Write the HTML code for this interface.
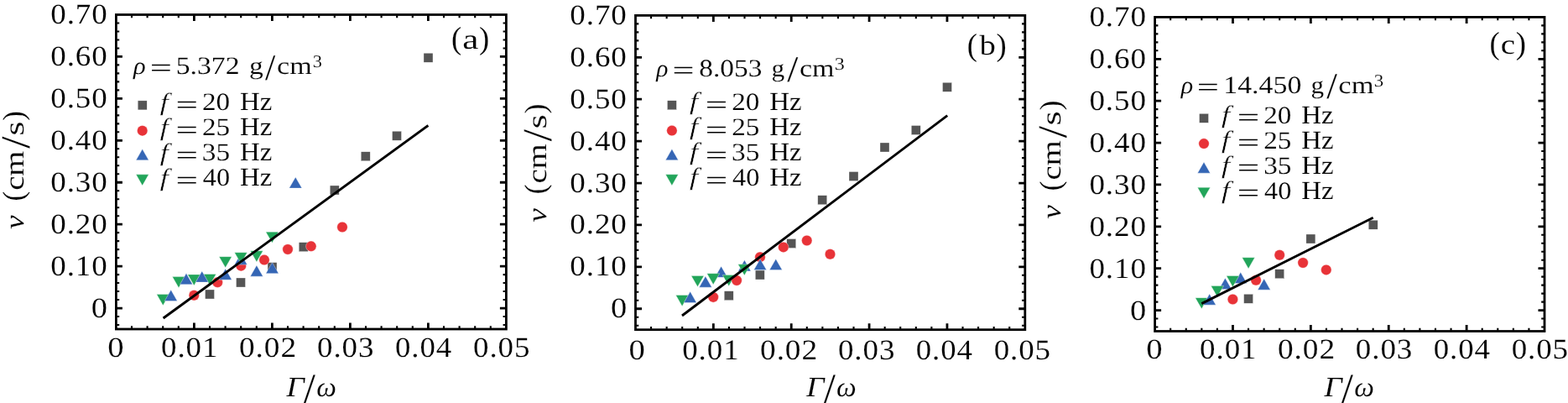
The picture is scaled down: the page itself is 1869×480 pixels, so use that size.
<!DOCTYPE html>
<html lang="en">
<head>
<meta charset="utf-8">
<title>v versus Γ/ω</title>
<style>
html,body{margin:0;padding:0;background:#fff;}
body{width:1869px;height:480px;overflow:hidden;}
svg{display:block;}
text{font-family:"Liberation Serif","DejaVu Serif",serif;fill:#000;stroke:#fff;stroke-width:0.12px;vector-effect:non-scaling-stroke;font-kerning:none;font-variant-ligatures:none;text-rendering:geometricPrecision;white-space:pre;}
text.i{font-style:italic;}
.fr{fill:none;stroke:#000;stroke-width:2.8;}
.tk{stroke:#000;stroke-width:2.1;fill:none;}
.tM{stroke-width:2.8;}
.ln{stroke:#000;stroke-width:2.9;fill:none;}
.m{stroke:#fff;stroke-width:0.35;stroke-linejoin:miter;}
.g{fill:#555555;}
.r{fill:#E83338;}
.b{fill:#3566B5;}
.n{fill:#22A55A;}
</style>
</head>
<body>
<svg width="1869" height="480" viewBox="0 0 1869 480">
<rect x="0" y="0" width="1869" height="480" fill="#fff"/>

<g id="panel-a">
<path class="tk" d="M157.00,392.00v-3.8M157.00,17.50v3.8M175.60,392.00v-3.8M175.60,17.50v3.8M194.20,392.00v-3.8M194.20,17.50v3.8M212.80,392.00v-3.8M212.80,17.50v3.8M250.00,392.00v-3.8M250.00,17.50v3.8M268.60,392.00v-3.8M268.60,17.50v3.8M287.20,392.00v-3.8M287.20,17.50v3.8M305.80,392.00v-3.8M305.80,17.50v3.8M343.00,392.00v-3.8M343.00,17.50v3.8M361.60,392.00v-3.8M361.60,17.50v3.8M380.20,392.00v-3.8M380.20,17.50v3.8M398.80,392.00v-3.8M398.80,17.50v3.8M436.00,392.00v-3.8M436.00,17.50v3.8M454.60,392.00v-3.8M454.60,17.50v3.8M473.20,392.00v-3.8M473.20,17.50v3.8M491.80,392.00v-3.8M491.80,17.50v3.8M529.00,392.00v-3.8M529.00,17.50v3.8M547.60,392.00v-3.8M547.60,17.50v3.8M566.20,392.00v-3.8M566.20,17.50v3.8M584.80,392.00v-3.8M584.80,17.50v3.8M138.40,387.01h3.8M603.40,387.01h-3.8M138.40,377.02h3.8M603.40,377.02h-3.8M138.40,357.05h3.8M603.40,357.05h-3.8M138.40,347.06h3.8M603.40,347.06h-3.8M138.40,337.07h3.8M603.40,337.07h-3.8M138.40,327.09h3.8M603.40,327.09h-3.8M138.40,307.11h3.8M603.40,307.11h-3.8M138.40,297.13h3.8M603.40,297.13h-3.8M138.40,287.14h3.8M603.40,287.14h-3.8M138.40,277.15h3.8M603.40,277.15h-3.8M138.40,257.18h3.8M603.40,257.18h-3.8M138.40,247.19h3.8M603.40,247.19h-3.8M138.40,237.21h3.8M603.40,237.21h-3.8M138.40,227.22h3.8M603.40,227.22h-3.8M138.40,207.25h3.8M603.40,207.25h-3.8M138.40,197.26h3.8M603.40,197.26h-3.8M138.40,187.27h3.8M603.40,187.27h-3.8M138.40,177.29h3.8M603.40,177.29h-3.8M138.40,157.31h3.8M603.40,157.31h-3.8M138.40,147.33h3.8M603.40,147.33h-3.8M138.40,137.34h3.8M603.40,137.34h-3.8M138.40,127.35h3.8M603.40,127.35h-3.8M138.40,107.38h3.8M603.40,107.38h-3.8M138.40,97.39h3.8M603.40,97.39h-3.8M138.40,87.41h3.8M603.40,87.41h-3.8M138.40,77.42h3.8M603.40,77.42h-3.8M138.40,57.45h3.8M603.40,57.45h-3.8M138.40,47.46h3.8M603.40,47.46h-3.8M138.40,37.47h3.8M603.40,37.47h-3.8M138.40,27.49h3.8M603.40,27.49h-3.8"/>
<path class="tk tM" d="M231.40,392.00v-7.5M231.40,17.50v7.5M324.40,392.00v-7.5M324.40,17.50v7.5M417.40,392.00v-7.5M417.40,17.50v7.5M510.40,392.00v-7.5M510.40,17.50v7.5M138.40,367.03h7.5M603.40,367.03h-7.5M138.40,317.10h7.5M603.40,317.10h-7.5M138.40,267.17h7.5M603.40,267.17h-7.5M138.40,217.23h7.5M603.40,217.23h-7.5M138.40,167.30h7.5M603.40,167.30h-7.5M138.40,117.37h7.5M603.40,117.37h-7.5M138.40,67.43h7.5M603.40,67.43h-7.5"/>
<rect class="fr" x="138.40" y="17.50" width="465.00" height="374.50"/>
<rect class="m g" x="244.50" y="345.00" width="11.00" height="11.00"/>
<rect class="m g" x="281.50" y="331.00" width="11.00" height="11.00"/>
<rect class="m g" x="319.00" y="312.60" width="11.00" height="11.00"/>
<rect class="m g" x="356.20" y="288.70" width="11.00" height="11.00"/>
<rect class="m g" x="393.25" y="221.00" width="11.00" height="11.00"/>
<rect class="m g" x="430.25" y="180.75" width="11.00" height="11.00"/>
<rect class="m g" x="467.50" y="156.25" width="11.00" height="11.00"/>
<rect class="m g" x="505.00" y="63.25" width="11.00" height="11.00"/>
<circle class="m r" cx="231.25" cy="351.75" r="6.25"/>
<circle class="m r" cx="259.25" cy="336.25" r="6.25"/>
<circle class="m r" cx="287.30" cy="316.70" r="6.25"/>
<circle class="m r" cx="343.00" cy="297.00" r="6.25"/>
<circle class="m r" cx="370.80" cy="293.30" r="6.25"/>
<circle class="m r" cx="408.00" cy="270.50" r="6.25"/>
<polygon class="m b" points="261.20,333.30 276.30,333.30 268.75,320.10"/>
<polygon class="m b" points="279.55,315.20 294.65,315.20 287.10,302.00"/>
<polygon class="m b" points="298.35,329.20 313.45,329.20 305.90,316.00"/>
<polygon class="m b" points="316.95,325.65 332.05,325.65 324.50,312.45"/>
<polygon class="m b" points="344.70,224.10 359.80,224.10 352.25,210.90"/>
<polygon class="m n" points="186.75,350.60 201.85,350.60 194.30,363.80"/>
<polygon class="m n" points="205.45,329.60 220.55,329.60 213.00,342.80"/>
<polygon class="m n" points="223.75,326.90 238.85,326.90 231.30,340.10"/>
<polygon class="m n" points="242.45,326.50 257.55,326.50 250.00,339.70"/>
<polygon class="m n" points="261.15,305.65 276.25,305.65 268.70,318.85"/>
<polygon class="m n" points="279.55,300.70 294.65,300.70 287.10,313.90"/>
<polygon class="m n" points="298.35,298.75 313.45,298.75 305.90,311.95"/>
<polygon class="m n" points="316.85,276.15 331.95,276.15 324.40,289.35"/>
<polygon class="m b" points="196.20,358.50 211.30,358.50 203.75,345.30"/>
<polygon class="m b" points="214.45,338.80 229.55,338.80 222.00,325.60"/>
<polygon class="m b" points="233.20,336.10 248.30,336.10 240.75,322.90"/>
<circle class="m r" cx="315.00" cy="309.60" r="6.25"/>
<line class="ln" x1="194.60" y1="379.00" x2="510.40" y2="149.50"/>
<rect class="m g" x="164.20" y="119.90" width="11.00" height="11.00"/>
<circle class="m r" cx="169.70" cy="155.70" r="6.25"/>
<polygon class="m b" points="162.15,190.80 177.25,190.80 169.70,177.60"/>
<polygon class="m n" points="162.15,207.85 177.25,207.85 169.70,221.05"/>
<text font-size="34" transform="translate(108.87,377.53) scale(1.1325,1)">0</text>
<text letter-spacing="0.826" font-size="34" transform="translate(60.23,327.60) scale(1.0898,1)">0.10</text>
<text letter-spacing="0.826" font-size="34" transform="translate(60.23,277.67) scale(1.0898,1)">0.20</text>
<text letter-spacing="0.826" font-size="34" transform="translate(60.23,227.73) scale(1.0898,1)">0.30</text>
<text letter-spacing="0.826" font-size="34" transform="translate(60.23,177.80) scale(1.0898,1)">0.40</text>
<text letter-spacing="0.826" font-size="34" transform="translate(60.23,127.87) scale(1.0898,1)">0.50</text>
<text letter-spacing="0.826" font-size="34" transform="translate(60.23,77.93) scale(1.0898,1)">0.60</text>
<text letter-spacing="0.826" font-size="34" transform="translate(60.23,28.00) scale(1.0898,1)">0.70</text>
<text font-size="34" transform="translate(128.16,425.30) scale(1.1395,1)">0</text>
<text letter-spacing="0.826" font-size="34" transform="translate(192.03,425.30) scale(1.0891,1)">0.01</text>
<text letter-spacing="0.819" font-size="34" transform="translate(285.02,425.30) scale(1.0993,1)">0.02</text>
<text letter-spacing="0.827" font-size="34" transform="translate(378.03,425.30) scale(1.0887,1)">0.03</text>
<text letter-spacing="0.830" font-size="34" transform="translate(471.04,425.30) scale(1.0840,1)">0.04</text>
<text letter-spacing="0.827" font-size="34" transform="translate(564.03,425.30) scale(1.0887,1)">0.05</text>
<text><tspan x="341.15" y="471.60" font-size="33.6" textLength="21.46" lengthAdjust="spacingAndGlyphs" style="font-style:italic">Γ</tspan><tspan x="361.84" y="479.70" font-size="50.8" textLength="14.12" lengthAdjust="spacingAndGlyphs">/</tspan><tspan x="377.22" y="471.60" font-size="33" textLength="23.71" lengthAdjust="spacingAndGlyphs" style="font-style:italic">ω</tspan></text>
<text transform="rotate(-90)"><tspan x="-273.08" y="28.40" font-size="33" textLength="16.84" lengthAdjust="spacingAndGlyphs" style="font-style:italic">v</tspan><tspan> </tspan><tspan x="-239.59" y="28.00" font-size="36" textLength="11.57" lengthAdjust="spacingAndGlyphs">(</tspan><tspan x="-226.83" y="28.40" font-size="33" textLength="47.19" lengthAdjust="spacingAndGlyphs">cm</tspan><tspan x="-176.76" y="35.00" font-size="49" textLength="14.32" lengthAdjust="spacingAndGlyphs">/</tspan><tspan x="-161.88" y="28.40" font-size="33" textLength="17.24" lengthAdjust="spacingAndGlyphs">s</tspan><tspan x="-143.68" y="28.00" font-size="36" textLength="11.57" lengthAdjust="spacingAndGlyphs">)</tspan></text>
<text><tspan x="538.08" y="58.00" font-size="37.4" textLength="12.21" lengthAdjust="spacingAndGlyphs">(</tspan><tspan x="551.17" y="57.50" font-size="33.5" textLength="19.24" lengthAdjust="spacingAndGlyphs">a</tspan><tspan x="571.01" y="58.00" font-size="37.4" textLength="12.21" lengthAdjust="spacingAndGlyphs">)</tspan></text>
<text><tspan x="159.02" y="88.40" font-size="28.8" textLength="14.67" lengthAdjust="spacingAndGlyphs" style="font-style:italic">ρ</tspan><tspan> </tspan><tspan x="178.69" y="91.45" font-size="31.3" textLength="26.18" lengthAdjust="spacingAndGlyphs" style="stroke:none">=</tspan><tspan> </tspan><tspan x="209.68" y="88.40" font-size="29.6" textLength="75.94" lengthAdjust="spacingAndGlyphs">5.372</tspan><tspan> </tspan><tspan x="297.00" y="88.40" font-size="29" textLength="16.80" lengthAdjust="spacingAndGlyphs">g</tspan><tspan x="315.94" y="94.80" font-size="43.7" textLength="12.22" lengthAdjust="spacingAndGlyphs">/</tspan><tspan x="330.14" y="88.40" font-size="29" textLength="41.70" lengthAdjust="spacingAndGlyphs">cm</tspan><tspan x="372.87" y="80.40" font-size="21" textLength="11.16" lengthAdjust="spacingAndGlyphs">3</tspan></text>
<text><tspan x="190.48" y="130.50" font-size="29" textLength="10.40" lengthAdjust="spacingAndGlyphs" style="font-style:italic;stroke-width:0.4px">f</tspan><tspan> </tspan><tspan x="209.56" y="135.00" font-size="31.3" textLength="26.48" lengthAdjust="spacingAndGlyphs" style="stroke:none">=</tspan><tspan> </tspan><tspan x="240.98" y="131.10" font-size="29.6" textLength="33.14" lengthAdjust="spacingAndGlyphs">20</tspan><tspan> </tspan><tspan x="285.99" y="131.10" font-size="30.8" textLength="38.38" lengthAdjust="spacingAndGlyphs">Hz</tspan></text>
<text><tspan x="190.48" y="160.50" font-size="29" textLength="10.40" lengthAdjust="spacingAndGlyphs" style="font-style:italic;stroke-width:0.4px">f</tspan><tspan> </tspan><tspan x="209.56" y="165.00" font-size="31.3" textLength="26.48" lengthAdjust="spacingAndGlyphs" style="stroke:none">=</tspan><tspan> </tspan><tspan x="240.98" y="161.10" font-size="29.6" textLength="33.17" lengthAdjust="spacingAndGlyphs">25</tspan><tspan> </tspan><tspan x="285.99" y="161.10" font-size="30.8" textLength="38.38" lengthAdjust="spacingAndGlyphs">Hz</tspan></text>
<text><tspan x="190.48" y="190.50" font-size="29" textLength="10.40" lengthAdjust="spacingAndGlyphs" style="font-style:italic;stroke-width:0.4px">f</tspan><tspan> </tspan><tspan x="209.56" y="195.00" font-size="31.3" textLength="26.48" lengthAdjust="spacingAndGlyphs" style="stroke:none">=</tspan><tspan> </tspan><tspan x="240.85" y="191.10" font-size="29.6" textLength="33.32" lengthAdjust="spacingAndGlyphs">35</tspan><tspan> </tspan><tspan x="285.99" y="191.10" font-size="30.8" textLength="38.38" lengthAdjust="spacingAndGlyphs">Hz</tspan></text>
<text><tspan x="190.48" y="220.50" font-size="29" textLength="10.40" lengthAdjust="spacingAndGlyphs" style="font-style:italic;stroke-width:0.4px">f</tspan><tspan> </tspan><tspan x="209.56" y="225.00" font-size="31.3" textLength="26.48" lengthAdjust="spacingAndGlyphs" style="stroke:none">=</tspan><tspan> </tspan><tspan x="241.81" y="221.10" font-size="29.6" textLength="32.28" lengthAdjust="spacingAndGlyphs">40</tspan><tspan> </tspan><tspan x="285.99" y="221.10" font-size="30.8" textLength="38.38" lengthAdjust="spacingAndGlyphs">Hz</tspan></text>
</g>
<g id="panel-b">
<path class="tk" d="M776.07,392.70v-3.8M776.07,18.40v3.8M794.64,392.70v-3.8M794.64,18.40v3.8M813.22,392.70v-3.8M813.22,18.40v3.8M831.79,392.70v-3.8M831.79,18.40v3.8M868.93,392.70v-3.8M868.93,18.40v3.8M887.50,392.70v-3.8M887.50,18.40v3.8M906.08,392.70v-3.8M906.08,18.40v3.8M924.65,392.70v-3.8M924.65,18.40v3.8M961.79,392.70v-3.8M961.79,18.40v3.8M980.36,392.70v-3.8M980.36,18.40v3.8M998.94,392.70v-3.8M998.94,18.40v3.8M1017.51,392.70v-3.8M1017.51,18.40v3.8M1054.65,392.70v-3.8M1054.65,18.40v3.8M1073.22,392.70v-3.8M1073.22,18.40v3.8M1091.80,392.70v-3.8M1091.80,18.40v3.8M1110.37,392.70v-3.8M1110.37,18.40v3.8M1147.51,392.70v-3.8M1147.51,18.40v3.8M1166.08,392.70v-3.8M1166.08,18.40v3.8M1184.66,392.70v-3.8M1184.66,18.40v3.8M1203.23,392.70v-3.8M1203.23,18.40v3.8M757.50,387.71h3.8M1221.80,387.71h-3.8M757.50,377.73h3.8M1221.80,377.73h-3.8M757.50,357.77h3.8M1221.80,357.77h-3.8M757.50,347.78h3.8M1221.80,347.78h-3.8M757.50,337.80h3.8M1221.80,337.80h-3.8M757.50,327.82h3.8M1221.80,327.82h-3.8M757.50,307.86h3.8M1221.80,307.86h-3.8M757.50,297.88h3.8M1221.80,297.88h-3.8M757.50,287.90h3.8M1221.80,287.90h-3.8M757.50,277.91h3.8M1221.80,277.91h-3.8M757.50,257.95h3.8M1221.80,257.95h-3.8M757.50,247.97h3.8M1221.80,247.97h-3.8M757.50,237.99h3.8M1221.80,237.99h-3.8M757.50,228.01h3.8M1221.80,228.01h-3.8M757.50,208.05h3.8M1221.80,208.05h-3.8M757.50,198.06h3.8M1221.80,198.06h-3.8M757.50,188.08h3.8M1221.80,188.08h-3.8M757.50,178.10h3.8M1221.80,178.10h-3.8M757.50,158.14h3.8M1221.80,158.14h-3.8M757.50,148.16h3.8M1221.80,148.16h-3.8M757.50,138.18h3.8M1221.80,138.18h-3.8M757.50,128.19h3.8M1221.80,128.19h-3.8M757.50,108.23h3.8M1221.80,108.23h-3.8M757.50,98.25h3.8M1221.80,98.25h-3.8M757.50,88.27h3.8M1221.80,88.27h-3.8M757.50,78.29h3.8M1221.80,78.29h-3.8M757.50,58.33h3.8M1221.80,58.33h-3.8M757.50,48.34h3.8M1221.80,48.34h-3.8M757.50,38.36h3.8M1221.80,38.36h-3.8M757.50,28.38h3.8M1221.80,28.38h-3.8"/>
<path class="tk tM" d="M850.36,392.70v-7.5M850.36,18.40v7.5M943.22,392.70v-7.5M943.22,18.40v7.5M1036.08,392.70v-7.5M1036.08,18.40v7.5M1128.94,392.70v-7.5M1128.94,18.40v7.5M757.50,367.75h7.5M1221.80,367.75h-7.5M757.50,317.84h7.5M1221.80,317.84h-7.5M757.50,267.93h7.5M1221.80,267.93h-7.5M757.50,218.03h7.5M1221.80,218.03h-7.5M757.50,168.12h7.5M1221.80,168.12h-7.5M757.50,118.21h7.5M1221.80,118.21h-7.5M757.50,68.31h7.5M1221.80,68.31h-7.5"/>
<rect class="fr" x="757.50" y="18.40" width="464.30" height="374.30"/>
<rect class="m g" x="863.20" y="346.70" width="11.00" height="11.00"/>
<rect class="m g" x="900.30" y="322.00" width="11.00" height="11.00"/>
<rect class="m g" x="937.75" y="284.50" width="11.00" height="11.00"/>
<rect class="m g" x="974.75" y="232.75" width="11.00" height="11.00"/>
<rect class="m g" x="1012.00" y="204.50" width="11.00" height="11.00"/>
<rect class="m g" x="1049.00" y="170.00" width="11.00" height="11.00"/>
<rect class="m g" x="1086.25" y="149.50" width="11.00" height="11.00"/>
<rect class="m g" x="1123.50" y="98.25" width="11.00" height="11.00"/>
<circle class="m r" cx="850.20" cy="353.90" r="6.25"/>
<circle class="m r" cx="906.00" cy="306.20" r="6.25"/>
<circle class="m r" cx="933.80" cy="294.40" r="6.25"/>
<circle class="m r" cx="961.75" cy="286.50" r="6.25"/>
<circle class="m r" cx="989.50" cy="302.75" r="6.25"/>
<polygon class="m n" points="823.95,328.40 839.05,328.40 831.50,341.60"/>
<polygon class="m b" points="833.35,342.20 848.45,342.20 840.90,329.00"/>
<polygon class="m b" points="852.05,330.35 867.15,330.35 859.60,317.15"/>
<polygon class="m b" points="879.85,322.90 894.95,322.90 887.40,309.70"/>
<polygon class="m b" points="898.55,321.60 913.65,321.60 906.10,308.40"/>
<polygon class="m b" points="917.20,321.60 932.30,321.60 924.75,308.40"/>
<polygon class="m n" points="805.55,351.50 820.65,351.50 813.10,364.70"/>
<polygon class="m n" points="842.65,325.70 857.75,325.70 850.20,338.90"/>
<polygon class="m n" points="861.20,327.60 876.30,327.60 868.75,340.80"/>
<polygon class="m n" points="879.75,314.80 894.85,314.80 887.30,328.00"/>
<polygon class="m b" points="815.15,360.50 830.25,360.50 822.70,347.30"/>
<circle class="m r" cx="878.10" cy="334.00" r="6.25"/>
<line class="ln" x1="813.00" y1="376.00" x2="1129.20" y2="137.70"/>
<rect class="m g" x="795.40" y="119.80" width="11.00" height="11.00"/>
<circle class="m r" cx="800.90" cy="155.60" r="6.25"/>
<polygon class="m b" points="793.35,190.70 808.45,190.70 800.90,177.50"/>
<polygon class="m n" points="793.35,207.75 808.45,207.75 800.90,220.95"/>
<text font-size="34" transform="translate(727.97,378.25) scale(1.1325,1)">0</text>
<text letter-spacing="0.826" font-size="34" transform="translate(679.33,328.34) scale(1.0898,1)">0.10</text>
<text letter-spacing="0.826" font-size="34" transform="translate(679.33,278.43) scale(1.0898,1)">0.20</text>
<text letter-spacing="0.826" font-size="34" transform="translate(679.33,228.53) scale(1.0898,1)">0.30</text>
<text letter-spacing="0.826" font-size="34" transform="translate(679.33,178.62) scale(1.0898,1)">0.40</text>
<text letter-spacing="0.826" font-size="34" transform="translate(679.33,128.71) scale(1.0898,1)">0.50</text>
<text letter-spacing="0.826" font-size="34" transform="translate(679.33,78.81) scale(1.0898,1)">0.60</text>
<text letter-spacing="0.826" font-size="34" transform="translate(679.33,28.90) scale(1.0898,1)">0.70</text>
<text font-size="34" transform="translate(749.46,427.70) scale(1.1395,1)">0</text>
<text letter-spacing="0.826" font-size="34" transform="translate(813.19,427.70) scale(1.0891,1)">0.01</text>
<text letter-spacing="0.819" font-size="34" transform="translate(906.04,427.70) scale(1.0993,1)">0.02</text>
<text letter-spacing="0.827" font-size="34" transform="translate(998.91,427.70) scale(1.0887,1)">0.03</text>
<text letter-spacing="0.830" font-size="34" transform="translate(1091.78,427.70) scale(1.0840,1)">0.04</text>
<text letter-spacing="0.827" font-size="34" transform="translate(1184.63,427.70) scale(1.0887,1)">0.05</text>
<text><tspan x="961.05" y="472.30" font-size="33.6" textLength="21.46" lengthAdjust="spacingAndGlyphs" style="font-style:italic">Γ</tspan><tspan x="981.74" y="480.40" font-size="50.8" textLength="14.12" lengthAdjust="spacingAndGlyphs">/</tspan><tspan x="997.12" y="472.30" font-size="33" textLength="23.71" lengthAdjust="spacingAndGlyphs" style="font-style:italic">ω</tspan></text>
<text transform="rotate(-90)"><tspan x="-264.68" y="650.50" font-size="33" textLength="16.84" lengthAdjust="spacingAndGlyphs" style="font-style:italic">v</tspan><tspan> </tspan><tspan x="-231.19" y="650.10" font-size="36" textLength="11.57" lengthAdjust="spacingAndGlyphs">(</tspan><tspan x="-218.43" y="650.50" font-size="33" textLength="47.19" lengthAdjust="spacingAndGlyphs">cm</tspan><tspan x="-168.36" y="657.10" font-size="49" textLength="14.32" lengthAdjust="spacingAndGlyphs">/</tspan><tspan x="-153.48" y="650.50" font-size="33" textLength="17.24" lengthAdjust="spacingAndGlyphs">s</tspan><tspan x="-135.28" y="650.10" font-size="36" textLength="11.57" lengthAdjust="spacingAndGlyphs">)</tspan></text>
<text><tspan x="1152.73" y="65.80" font-size="37.4" textLength="12.21" lengthAdjust="spacingAndGlyphs">(</tspan><tspan x="1167.44" y="65.30" font-size="33.5" textLength="19.34" lengthAdjust="spacingAndGlyphs">b</tspan><tspan x="1187.51" y="65.80" font-size="37.4" textLength="12.21" lengthAdjust="spacingAndGlyphs">)</tspan></text>
<text><tspan x="782.19" y="90.50" font-size="28.8" textLength="14.16" lengthAdjust="spacingAndGlyphs" style="font-style:italic">ρ</tspan><tspan> </tspan><tspan x="801.45" y="93.55" font-size="31.3" textLength="26.00" lengthAdjust="spacingAndGlyphs" style="stroke:none">=</tspan><tspan> </tspan><tspan x="833.27" y="90.50" font-size="29.6" textLength="75.20" lengthAdjust="spacingAndGlyphs">8.053</tspan><tspan> </tspan><tspan x="919.59" y="90.50" font-size="29" textLength="15.66" lengthAdjust="spacingAndGlyphs">g</tspan><tspan x="938.24" y="96.90" font-size="43.7" textLength="13.07" lengthAdjust="spacingAndGlyphs">/</tspan><tspan x="953.04" y="90.50" font-size="29" textLength="41.55" lengthAdjust="spacingAndGlyphs">cm</tspan><tspan x="994.79" y="82.50" font-size="21" textLength="12.01" lengthAdjust="spacingAndGlyphs">3</tspan></text>
<text><tspan x="821.68" y="130.40" font-size="29" textLength="10.40" lengthAdjust="spacingAndGlyphs" style="font-style:italic;stroke-width:0.4px">f</tspan><tspan> </tspan><tspan x="840.76" y="134.90" font-size="31.3" textLength="26.48" lengthAdjust="spacingAndGlyphs" style="stroke:none">=</tspan><tspan> </tspan><tspan x="872.18" y="131.00" font-size="29.6" textLength="33.14" lengthAdjust="spacingAndGlyphs">20</tspan><tspan> </tspan><tspan x="917.19" y="131.00" font-size="30.8" textLength="38.38" lengthAdjust="spacingAndGlyphs">Hz</tspan></text>
<text><tspan x="821.68" y="160.40" font-size="29" textLength="10.40" lengthAdjust="spacingAndGlyphs" style="font-style:italic;stroke-width:0.4px">f</tspan><tspan> </tspan><tspan x="840.76" y="164.90" font-size="31.3" textLength="26.48" lengthAdjust="spacingAndGlyphs" style="stroke:none">=</tspan><tspan> </tspan><tspan x="872.18" y="161.00" font-size="29.6" textLength="33.17" lengthAdjust="spacingAndGlyphs">25</tspan><tspan> </tspan><tspan x="917.19" y="161.00" font-size="30.8" textLength="38.38" lengthAdjust="spacingAndGlyphs">Hz</tspan></text>
<text><tspan x="821.68" y="190.40" font-size="29" textLength="10.40" lengthAdjust="spacingAndGlyphs" style="font-style:italic;stroke-width:0.4px">f</tspan><tspan> </tspan><tspan x="840.76" y="194.90" font-size="31.3" textLength="26.48" lengthAdjust="spacingAndGlyphs" style="stroke:none">=</tspan><tspan> </tspan><tspan x="872.05" y="191.00" font-size="29.6" textLength="33.32" lengthAdjust="spacingAndGlyphs">35</tspan><tspan> </tspan><tspan x="917.19" y="191.00" font-size="30.8" textLength="38.38" lengthAdjust="spacingAndGlyphs">Hz</tspan></text>
<text><tspan x="821.68" y="220.40" font-size="29" textLength="10.40" lengthAdjust="spacingAndGlyphs" style="font-style:italic;stroke-width:0.4px">f</tspan><tspan> </tspan><tspan x="840.76" y="224.90" font-size="31.3" textLength="26.48" lengthAdjust="spacingAndGlyphs" style="stroke:none">=</tspan><tspan> </tspan><tspan x="873.01" y="221.00" font-size="29.6" textLength="32.28" lengthAdjust="spacingAndGlyphs">40</tspan><tspan> </tspan><tspan x="917.19" y="221.00" font-size="30.8" textLength="38.38" lengthAdjust="spacingAndGlyphs">Hz</tspan></text>
</g>
<g id="panel-c">
<path class="tk" d="M1395.18,394.50v-3.8M1395.18,20.40v3.8M1413.75,394.50v-3.8M1413.75,20.40v3.8M1432.33,394.50v-3.8M1432.33,20.40v3.8M1450.90,394.50v-3.8M1450.90,20.40v3.8M1488.06,394.50v-3.8M1488.06,20.40v3.8M1506.63,394.50v-3.8M1506.63,20.40v3.8M1525.21,394.50v-3.8M1525.21,20.40v3.8M1543.78,394.50v-3.8M1543.78,20.40v3.8M1580.94,394.50v-3.8M1580.94,20.40v3.8M1599.51,394.50v-3.8M1599.51,20.40v3.8M1618.09,394.50v-3.8M1618.09,20.40v3.8M1636.66,394.50v-3.8M1636.66,20.40v3.8M1673.82,394.50v-3.8M1673.82,20.40v3.8M1692.39,394.50v-3.8M1692.39,20.40v3.8M1710.97,394.50v-3.8M1710.97,20.40v3.8M1729.54,394.50v-3.8M1729.54,20.40v3.8M1766.70,394.50v-3.8M1766.70,20.40v3.8M1785.27,394.50v-3.8M1785.27,20.40v3.8M1803.85,394.50v-3.8M1803.85,20.40v3.8M1822.42,394.50v-3.8M1822.42,20.40v3.8M1376.60,389.51h3.8M1841.00,389.51h-3.8M1376.60,379.54h3.8M1841.00,379.54h-3.8M1376.60,359.58h3.8M1841.00,359.58h-3.8M1376.60,349.61h3.8M1841.00,349.61h-3.8M1376.60,339.63h3.8M1841.00,339.63h-3.8M1376.60,329.66h3.8M1841.00,329.66h-3.8M1376.60,309.70h3.8M1841.00,309.70h-3.8M1376.60,299.73h3.8M1841.00,299.73h-3.8M1376.60,289.75h3.8M1841.00,289.75h-3.8M1376.60,279.78h3.8M1841.00,279.78h-3.8M1376.60,259.82h3.8M1841.00,259.82h-3.8M1376.60,249.85h3.8M1841.00,249.85h-3.8M1376.60,239.87h3.8M1841.00,239.87h-3.8M1376.60,229.90h3.8M1841.00,229.90h-3.8M1376.60,209.94h3.8M1841.00,209.94h-3.8M1376.60,199.97h3.8M1841.00,199.97h-3.8M1376.60,189.99h3.8M1841.00,189.99h-3.8M1376.60,180.02h3.8M1841.00,180.02h-3.8M1376.60,160.06h3.8M1841.00,160.06h-3.8M1376.60,150.09h3.8M1841.00,150.09h-3.8M1376.60,140.11h3.8M1841.00,140.11h-3.8M1376.60,130.14h3.8M1841.00,130.14h-3.8M1376.60,110.18h3.8M1841.00,110.18h-3.8M1376.60,100.21h3.8M1841.00,100.21h-3.8M1376.60,90.23h3.8M1841.00,90.23h-3.8M1376.60,80.26h3.8M1841.00,80.26h-3.8M1376.60,60.30h3.8M1841.00,60.30h-3.8M1376.60,50.33h3.8M1841.00,50.33h-3.8M1376.60,40.35h3.8M1841.00,40.35h-3.8M1376.60,30.38h3.8M1841.00,30.38h-3.8"/>
<path class="tk tM" d="M1469.48,394.50v-7.5M1469.48,20.40v7.5M1562.36,394.50v-7.5M1562.36,20.40v7.5M1655.24,394.50v-7.5M1655.24,20.40v7.5M1748.12,394.50v-7.5M1748.12,20.40v7.5M1376.60,369.56h7.5M1841.00,369.56h-7.5M1376.60,319.68h7.5M1841.00,319.68h-7.5M1376.60,269.80h7.5M1841.00,269.80h-7.5M1376.60,219.92h7.5M1841.00,219.92h-7.5M1376.60,170.04h7.5M1841.00,170.04h-7.5M1376.60,120.16h7.5M1841.00,120.16h-7.5M1376.60,70.28h7.5M1841.00,70.28h-7.5"/>
<rect class="fr" x="1376.60" y="20.40" width="464.40" height="374.10"/>
<rect class="m g" x="1482.60" y="350.30" width="11.00" height="11.00"/>
<rect class="m g" x="1519.70" y="320.75" width="11.00" height="11.00"/>
<rect class="m g" x="1556.90" y="279.00" width="11.00" height="11.00"/>
<rect class="m g" x="1631.20" y="262.20" width="11.00" height="11.00"/>
<circle class="m r" cx="1469.40" cy="356.50" r="6.25"/>
<circle class="m r" cx="1497.10" cy="333.75" r="6.25"/>
<circle class="m r" cx="1525.20" cy="303.75" r="6.25"/>
<circle class="m r" cx="1553.10" cy="313.00" r="6.25"/>
<circle class="m r" cx="1580.80" cy="321.40" r="6.25"/>
<polygon class="m b" points="1499.15,345.20 1514.25,345.20 1506.70,332.00"/>
<polygon class="m b" points="1452.85,344.40 1467.95,344.40 1460.40,331.20"/>
<polygon class="m b" points="1471.20,337.50 1486.30,337.50 1478.75,324.30"/>
<polygon class="m n" points="1424.75,354.65 1439.85,354.65 1432.30,367.85"/>
<polygon class="m n" points="1443.45,340.40 1458.55,340.40 1451.00,353.60"/>
<polygon class="m n" points="1461.85,328.50 1476.95,328.50 1469.40,341.70"/>
<polygon class="m n" points="1480.55,306.70 1495.65,306.70 1488.10,319.90"/>
<polygon class="m b" points="1434.15,363.20 1449.25,363.20 1441.70,350.00"/>
<line class="ln" x1="1432.30" y1="361.60" x2="1636.70" y2="259.30"/>
<rect class="m g" x="1429.50" y="135.30" width="11.00" height="11.00"/>
<circle class="m r" cx="1435.00" cy="171.10" r="6.25"/>
<polygon class="m b" points="1427.45,206.20 1442.55,206.20 1435.00,193.00"/>
<polygon class="m n" points="1427.45,223.25 1442.55,223.25 1435.00,236.45"/>
<text font-size="34" transform="translate(1347.07,380.56) scale(1.1325,1)">0</text>
<text letter-spacing="0.826" font-size="34" transform="translate(1298.43,330.68) scale(1.0898,1)">0.10</text>
<text letter-spacing="0.826" font-size="34" transform="translate(1298.43,280.80) scale(1.0898,1)">0.20</text>
<text letter-spacing="0.826" font-size="34" transform="translate(1298.43,230.92) scale(1.0898,1)">0.30</text>
<text letter-spacing="0.826" font-size="34" transform="translate(1298.43,181.04) scale(1.0898,1)">0.40</text>
<text letter-spacing="0.826" font-size="34" transform="translate(1298.43,131.16) scale(1.0898,1)">0.50</text>
<text letter-spacing="0.826" font-size="34" transform="translate(1298.43,81.28) scale(1.0898,1)">0.60</text>
<text letter-spacing="0.826" font-size="34" transform="translate(1298.43,31.40) scale(1.0898,1)">0.70</text>
<text font-size="34" transform="translate(1366.36,427.30) scale(1.1395,1)">0</text>
<text letter-spacing="0.826" font-size="34" transform="translate(1430.11,427.30) scale(1.0891,1)">0.01</text>
<text letter-spacing="0.819" font-size="34" transform="translate(1522.98,427.30) scale(1.0993,1)">0.02</text>
<text letter-spacing="0.827" font-size="34" transform="translate(1615.87,427.30) scale(1.0887,1)">0.03</text>
<text letter-spacing="0.830" font-size="34" transform="translate(1708.76,427.30) scale(1.0840,1)">0.04</text>
<text letter-spacing="0.827" font-size="34" transform="translate(1801.63,427.30) scale(1.0887,1)">0.05</text>
<text><tspan x="1578.15" y="471.70" font-size="33.6" textLength="21.46" lengthAdjust="spacingAndGlyphs" style="font-style:italic">Γ</tspan><tspan x="1598.84" y="479.80" font-size="50.8" textLength="14.12" lengthAdjust="spacingAndGlyphs">/</tspan><tspan x="1614.22" y="471.70" font-size="33" textLength="23.71" lengthAdjust="spacingAndGlyphs" style="font-style:italic">ω</tspan></text>
<text transform="rotate(-90)"><tspan x="-260.68" y="1264.20" font-size="33" textLength="16.84" lengthAdjust="spacingAndGlyphs" style="font-style:italic">v</tspan><tspan> </tspan><tspan x="-227.19" y="1263.80" font-size="36" textLength="11.57" lengthAdjust="spacingAndGlyphs">(</tspan><tspan x="-214.43" y="1264.20" font-size="33" textLength="47.19" lengthAdjust="spacingAndGlyphs">cm</tspan><tspan x="-164.36" y="1270.80" font-size="49" textLength="14.32" lengthAdjust="spacingAndGlyphs">/</tspan><tspan x="-149.48" y="1264.20" font-size="33" textLength="17.24" lengthAdjust="spacingAndGlyphs">s</tspan><tspan x="-131.28" y="1263.80" font-size="36" textLength="11.57" lengthAdjust="spacingAndGlyphs">)</tspan></text>
<text><tspan x="1775.58" y="64.20" font-size="37.4" textLength="12.21" lengthAdjust="spacingAndGlyphs">(</tspan><tspan x="1788.71" y="63.70" font-size="33.5" textLength="17.30" lengthAdjust="spacingAndGlyphs">c</tspan><tspan x="1806.86" y="64.20" font-size="37.4" textLength="12.21" lengthAdjust="spacingAndGlyphs">)</tspan></text>
<text><tspan x="1407.80" y="110.80" font-size="28.8" textLength="14.42" lengthAdjust="spacingAndGlyphs" style="font-style:italic">ρ</tspan><tspan> </tspan><tspan x="1426.89" y="113.85" font-size="31.3" textLength="26.18" lengthAdjust="spacingAndGlyphs" style="stroke:none">=</tspan><tspan> </tspan><tspan x="1458.21" y="110.80" font-size="29.6" textLength="93.14" lengthAdjust="spacingAndGlyphs">14.450</tspan><tspan> </tspan><tspan x="1562.60" y="110.80" font-size="29" textLength="15.55" lengthAdjust="spacingAndGlyphs">g</tspan><tspan x="1581.19" y="117.20" font-size="43.7" textLength="12.62" lengthAdjust="spacingAndGlyphs">/</tspan><tspan x="1595.33" y="110.80" font-size="29" textLength="42.17" lengthAdjust="spacingAndGlyphs">cm</tspan><tspan x="1637.85" y="102.80" font-size="21" textLength="11.40" lengthAdjust="spacingAndGlyphs">3</tspan></text>
<text><tspan x="1455.78" y="145.90" font-size="29" textLength="10.40" lengthAdjust="spacingAndGlyphs" style="font-style:italic;stroke-width:0.4px">f</tspan><tspan> </tspan><tspan x="1474.86" y="150.40" font-size="31.3" textLength="26.48" lengthAdjust="spacingAndGlyphs" style="stroke:none">=</tspan><tspan> </tspan><tspan x="1506.28" y="146.50" font-size="29.6" textLength="33.14" lengthAdjust="spacingAndGlyphs">20</tspan><tspan> </tspan><tspan x="1551.29" y="146.50" font-size="30.8" textLength="38.38" lengthAdjust="spacingAndGlyphs">Hz</tspan></text>
<text><tspan x="1455.78" y="175.90" font-size="29" textLength="10.40" lengthAdjust="spacingAndGlyphs" style="font-style:italic;stroke-width:0.4px">f</tspan><tspan> </tspan><tspan x="1474.86" y="180.40" font-size="31.3" textLength="26.48" lengthAdjust="spacingAndGlyphs" style="stroke:none">=</tspan><tspan> </tspan><tspan x="1506.28" y="176.50" font-size="29.6" textLength="33.17" lengthAdjust="spacingAndGlyphs">25</tspan><tspan> </tspan><tspan x="1551.29" y="176.50" font-size="30.8" textLength="38.38" lengthAdjust="spacingAndGlyphs">Hz</tspan></text>
<text><tspan x="1455.78" y="205.90" font-size="29" textLength="10.40" lengthAdjust="spacingAndGlyphs" style="font-style:italic;stroke-width:0.4px">f</tspan><tspan> </tspan><tspan x="1474.86" y="210.40" font-size="31.3" textLength="26.48" lengthAdjust="spacingAndGlyphs" style="stroke:none">=</tspan><tspan> </tspan><tspan x="1506.15" y="206.50" font-size="29.6" textLength="33.32" lengthAdjust="spacingAndGlyphs">35</tspan><tspan> </tspan><tspan x="1551.29" y="206.50" font-size="30.8" textLength="38.38" lengthAdjust="spacingAndGlyphs">Hz</tspan></text>
<text><tspan x="1455.78" y="235.90" font-size="29" textLength="10.40" lengthAdjust="spacingAndGlyphs" style="font-style:italic;stroke-width:0.4px">f</tspan><tspan> </tspan><tspan x="1474.86" y="240.40" font-size="31.3" textLength="26.48" lengthAdjust="spacingAndGlyphs" style="stroke:none">=</tspan><tspan> </tspan><tspan x="1507.11" y="236.50" font-size="29.6" textLength="32.28" lengthAdjust="spacingAndGlyphs">40</tspan><tspan> </tspan><tspan x="1551.29" y="236.50" font-size="30.8" textLength="38.38" lengthAdjust="spacingAndGlyphs">Hz</tspan></text>
</g>
</svg>
</body>
</html>
